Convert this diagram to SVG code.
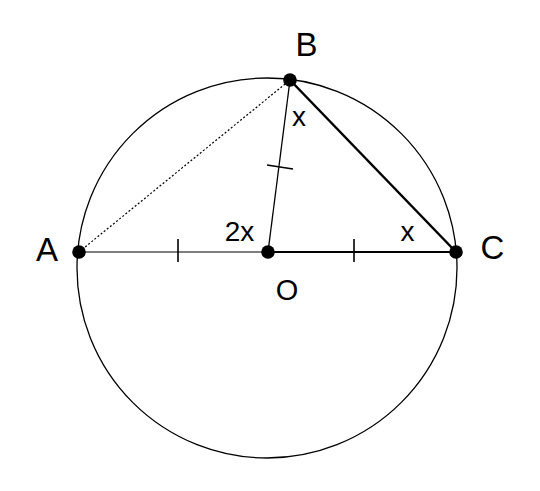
<svg xmlns="http://www.w3.org/2000/svg" width="540" height="491" viewBox="0 0 540 491">
<style>
.lbl{font-family:"Liberation Sans",Arial,sans-serif;fill:#000;text-anchor:middle}
.big{font-size:33px}
.sm{font-size:28px}
.pt{fill:#000}
</style>
<rect width="540" height="491" fill="#fff"/>
<g id="circle"><circle cx="267" cy="268" r="190" fill="none" stroke="#000" stroke-width="1.3"/></g>
<g id="connectors" fill="none" stroke="#000">
<line x1="79" y1="252" x2="290" y2="80" stroke-width="1.2" stroke-dasharray="2,2"/>
<line x1="79" y1="252" x2="268" y2="252" stroke-width="1.2"/>
<line x1="268" y1="252" x2="456" y2="252" stroke-width="2"/>
<line x1="268" y1="252" x2="290" y2="80" stroke-width="1.3"/>
<line x1="290" y1="80" x2="456" y2="252" stroke-width="2.5"/>
<line x1="178" y1="239" x2="178" y2="262" stroke-width="1.6"/>
<line x1="354" y1="239" x2="354" y2="262" stroke-width="1.6"/>
<line x1="267" y1="165" x2="293" y2="169" stroke-width="1.6"/>
</g>
<g id="A"><circle class="pt" cx="79" cy="252" r="6.8"/><text class="lbl big" x="47" y="261">A</text></g>
<g id="B"><circle class="pt" cx="290" cy="80" r="6.8"/><text class="lbl big" x="306.5" y="56">B</text></g>
<g id="C"><circle class="pt" cx="456" cy="252" r="6.8"/><text class="lbl big" x="492.5" y="258.5">C</text></g>
<g id="O"><circle class="pt" cx="268" cy="252" r="6.8"/><text class="lbl" style="font-size:29px" x="287" y="300">O</text></g>
<g id="angles">
<text class="lbl sm" x="299" y="126">x</text>
<text class="lbl sm" x="407.5" y="241">x</text>
<text class="lbl sm" x="239.5" y="241">2x</text>
</g>
</svg>
